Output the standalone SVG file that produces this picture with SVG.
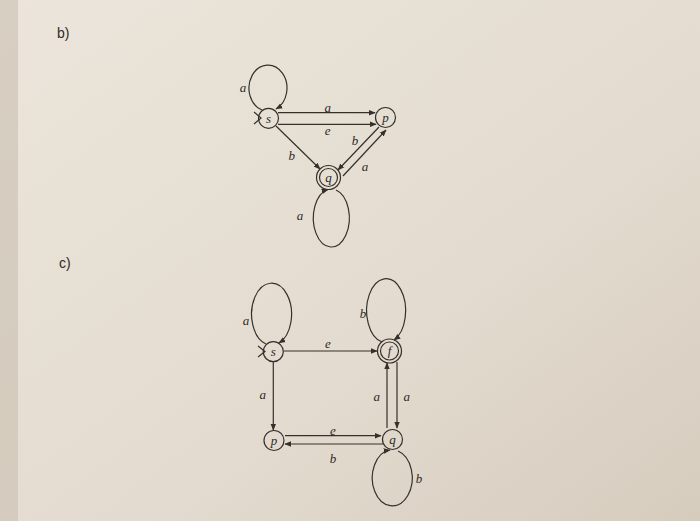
<svg xmlns="http://www.w3.org/2000/svg" width="700" height="521" viewBox="0 0 700 521">
<defs>
<linearGradient id="bg" x1="0" y1="0" x2="1" y2="1">
<stop offset="0" stop-color="#ebe5db"/>
<stop offset="0.6" stop-color="#e3dbcf"/>
<stop offset="1" stop-color="#d6ccbe"/>
</linearGradient>
<marker id="ah" viewBox="0 0 10 10" refX="9" refY="5" markerWidth="7" markerHeight="7" orient="auto" markerUnits="userSpaceOnUse">
<path d="M0,1 L10,5 L0,9 Z" fill="#35302b"/>
</marker>
<style>
.n{fill:none;stroke:#35302b;stroke-width:1.2}
.e{fill:none;stroke:#35302b;stroke-width:1.2;marker-end:url(#ah)}
.t{font-family:"Liberation Serif",serif;font-style:italic;font-size:13px;fill:#2e2a26;text-anchor:middle;dominant-baseline:central}
.h{font-family:"Liberation Sans",sans-serif;font-size:14px;fill:#2e2a26}
</style>
</defs>
<rect width="700" height="521" fill="url(#bg)"/>
<rect width="18" height="521" fill="#c9bfb1" opacity="0.6"/>
<text class="h" x="57" y="38">b)</text>
<text class="h" x="59" y="268">c)</text>

<g id="connectors">
<!-- diagram b -->
<path class="e" d="M262,110 A19 23 0 1 1 276,109"/>
<path class="e" d="M278,112.7 L375,112.7"/>
<path class="e" d="M278,124.3 L376,124.3"/>
<path class="e" d="M276,126 L320,169"/>
<path class="e" d="M379,127 L338,170"/>
<path class="e" d="M343,176 L386,130"/>
<path class="e" d="M336,190 A18 29 0 1 1 328,189.5"/>
<path class="n" d="M254,112 L261,118 L254,124"/>
<!-- diagram c -->
<path class="e" d="M266,344 A20 31 0 1 1 279,343"/>
<path class="e" d="M382,342 A19.5 32 0 1 1 394,340"/>
<path class="e" d="M284,351 L377,351"/>
<path class="e" d="M273.3,362 L273.3,430"/>
<path class="e" d="M285,435.7 L381,435.7"/>
<path class="e" d="M383,444 L285,444"/>
<path class="e" d="M387,428 L387,363"/>
<path class="e" d="M397,362 L397,428"/>
<path class="e" d="M398,451 A20 28 0 1 1 390,450"/>
<path class="n" d="M258,346 L265,351.5 L258,357"/>
</g>

<g id="b_s"><circle class="n" cx="268.5" cy="118.3" r="10"/><text class="t" x="268.5" y="118">s</text></g>
<g id="b_p"><circle class="n" cx="385.5" cy="117.5" r="10"/><text class="t" x="385.5" y="117">p</text></g>
<g id="b_q"><circle class="n" cx="328.5" cy="177.5" r="12"/><circle class="n" cx="328.5" cy="177.5" r="9"/><text class="t" x="328.5" y="177">q</text></g>
<g id="c_s"><circle class="n" cx="273.3" cy="351.7" r="10"/><text class="t" x="273.3" y="351">s</text></g>
<g id="c_f"><circle class="n" cx="389.5" cy="351" r="12"/><circle class="n" cx="389.5" cy="351" r="9"/><text class="t" x="389.5" y="350.5">f</text></g>
<g id="c_p"><circle class="n" cx="274" cy="440.5" r="10"/><text class="t" x="274" y="440">p</text></g>
<g id="c_q"><circle class="n" cx="392.5" cy="439.5" r="10"/><text class="t" x="392.5" y="439">q</text></g>

<g id="labels">
<text class="t" x="243" y="87">a</text>
<text class="t" x="327.7" y="107">a</text>
<text class="t" x="327.7" y="130">e</text>
<text class="t" x="291.7" y="155">b</text>
<text class="t" x="355" y="140">b</text>
<text class="t" x="365" y="166">a</text>
<text class="t" x="300" y="215.7">a</text>
<text class="t" x="246" y="320.7">a</text>
<text class="t" x="363" y="313">b</text>
<text class="t" x="328" y="343">e</text>
<text class="t" x="262.7" y="394">a</text>
<text class="t" x="333" y="430">e</text>
<text class="t" x="333" y="458">b</text>
<text class="t" x="376.7" y="396.7">a</text>
<text class="t" x="406.7" y="396.7">a</text>
<text class="t" x="419" y="478">b</text>
</g>
</svg>
